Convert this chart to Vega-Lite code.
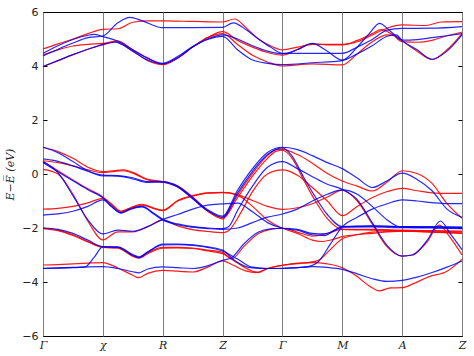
{
"$schema": "https://vega.github.io/schema/vega-lite/v6.json",
"width": 419, "height": 324,
"autosize": {"type": "none"},
"padding": {"left": 43, "top": 12, "right": 12, "bottom": 20},
"background": "#ffffff",
"config": {"view": {"stroke": "#000000", "strokeWidth": 1}},
"datasets": {
"red": [
{"b":1,"k":0,"e":0.99},{"b":1,"k":0.25,"e":0.83},{"b":1,"k":0.5,"e":0.58},{"b":1,"k":0.75,"e":0.25},{"b":1,"k":1,"e":0.09},{"b":1,"k":1.2,"e":0.13},{"b":1,"k":1.35,"e":0.15},{"b":1,"k":1.5,"e":0.06},{"b":1,"k":1.75,"e":-0.2},{"b":1,"k":2,"e":-0.28},{"b":1,"k":2.25,"e":-0.45},{"b":1,"k":2.5,"e":-0.85},{"b":1,"k":2.75,"e":-1.35},{"b":1,"k":3,"e":-1.62},{"b":1,"k":3.25,"e":-0.78},{"b":1,"k":3.5,"e":0.02},{"b":1,"k":3.75,"e":0.68},{"b":1,"k":3.9,"e":0.9},{"b":1,"k":4,"e":0.91},{"b":1,"k":4.25,"e":0.72},{"b":1,"k":4.5,"e":0.4},{"b":1,"k":4.75,"e":0.02},{"b":1,"k":5,"e":-0.26},{"b":1,"k":5.25,"e":-0.45},{"b":1,"k":5.5,"e":-0.63},{"b":1,"k":5.75,"e":-0.3},{"b":1,"k":6,"e":0.12},{"b":1,"k":6.25,"e":0.02},{"b":1,"k":6.5,"e":-0.35},{"b":1,"k":6.75,"e":-1.1},{"b":1,"k":7,"e":-1.64},
{"b":2,"k":0,"e":0.49},{"b":2,"k":0.25,"e":0.42},{"b":2,"k":0.5,"e":0.3},{"b":2,"k":0.75,"e":0.15},{"b":2,"k":1,"e":0.05},{"b":2,"k":1.2,"e":0.1},{"b":2,"k":1.35,"e":0.12},{"b":2,"k":1.5,"e":0.03},{"b":2,"k":1.75,"e":-0.22},{"b":2,"k":2,"e":-0.3},{"b":2,"k":2.25,"e":-0.48},{"b":2,"k":2.5,"e":-0.9},{"b":2,"k":2.75,"e":-1.38},{"b":2,"k":3,"e":-1.66},{"b":2,"k":3.25,"e":-0.88},{"b":2,"k":3.5,"e":-0.08},{"b":2,"k":3.75,"e":0.58},{"b":2,"k":3.9,"e":0.85},{"b":2,"k":4,"e":0.88},{"b":2,"k":4.15,"e":0.62},{"b":2,"k":4.35,"e":-0.2},{"b":2,"k":4.55,"e":-1.0},{"b":2,"k":4.75,"e":-1.65},{"b":2,"k":5,"e":-2.05},{"b":2,"k":5.5,"e":-2.08},{"b":2,"k":6,"e":-2.1},{"b":2,"k":6.5,"e":-2.12},{"b":2,"k":7,"e":-2.14},
{"b":3,"k":0,"e":0.17},{"b":3,"k":0.25,"e":0.0},{"b":3,"k":0.5,"e":-0.75},{"b":3,"k":0.75,"e":-1.75},{"b":3,"k":1,"e":-2.44},{"b":3,"k":1.25,"e":-2.14},{"b":3,"k":1.5,"e":-2.14},{"b":3,"k":1.75,"e":-1.95},{"b":3,"k":2,"e":-1.7},{"b":3,"k":2.25,"e":-1.92},{"b":3,"k":2.5,"e":-2.06},{"b":3,"k":2.75,"e":-2.13},{"b":3,"k":3,"e":-2.17},{"b":3,"k":3.1,"e":-2.1},{"b":3,"k":3.3,"e":-1.45},{"b":3,"k":3.5,"e":-0.65},{"b":3,"k":3.75,"e":0.0},{"b":3,"k":4,"e":0.15},{"b":3,"k":4.25,"e":-0.05},{"b":3,"k":4.5,"e":-0.5},{"b":3,"k":4.75,"e":-1.0},{"b":3,"k":5,"e":-1.54},{"b":3,"k":5.25,"e":-1.2},{"b":3,"k":5.5,"e":-0.88},{"b":3,"k":5.75,"e":-0.65},{"b":3,"k":6,"e":-0.53},{"b":3,"k":6.25,"e":-0.62},{"b":3,"k":6.5,"e":-0.7},{"b":3,"k":6.75,"e":-0.72},{"b":3,"k":7,"e":-0.72},
{"b":4,"k":0,"e":0.47},{"b":4,"k":0.25,"e":0.12},{"b":4,"k":0.5,"e":-0.22},{"b":4,"k":0.75,"e":-0.55},{"b":4,"k":1,"e":-0.85},{"b":4,"k":1.15,"e":-1.15},{"b":4,"k":1.3,"e":-1.4},{"b":4,"k":1.45,"e":-1.28},{"b":4,"k":1.65,"e":-1.15},{"b":4,"k":1.85,"e":-1.28},{"b":4,"k":2,"e":-1.36},{"b":4,"k":2.25,"e":-1.0},{"b":4,"k":2.5,"e":-0.82},{"b":4,"k":2.75,"e":-0.71},{"b":4,"k":3,"e":-0.69},{"b":4,"k":3.25,"e":-0.78},{"b":4,"k":3.5,"e":-1.2},{"b":4,"k":3.75,"e":-1.7},{"b":4,"k":4,"e":-2.01},{"b":4,"k":4.25,"e":-2.2},{"b":4,"k":4.5,"e":-2.45},{"b":4,"k":4.65,"e":-2.5},{"b":4,"k":4.85,"e":-2.42},{"b":4,"k":5,"e":-2.32},{"b":4,"k":5.5,"e":-2.2},{"b":4,"k":6,"e":-2.12},{"b":4,"k":6.5,"e":-2.15},{"b":4,"k":7,"e":-2.18},
{"b":5,"k":0,"e":-1.3},{"b":5,"k":0.25,"e":-1.27},{"b":5,"k":0.5,"e":-1.2},{"b":5,"k":0.75,"e":-1.07},{"b":5,"k":1,"e":-0.9},{"b":5,"k":1.15,"e":-1.12},{"b":5,"k":1.3,"e":-1.38},{"b":5,"k":1.45,"e":-1.26},{"b":5,"k":1.65,"e":-1.12},{"b":5,"k":1.85,"e":-1.26},{"b":5,"k":2,"e":-1.34},{"b":5,"k":2.25,"e":-0.98},{"b":5,"k":2.5,"e":-0.8},{"b":5,"k":2.75,"e":-0.7},{"b":5,"k":3,"e":-0.68},{"b":5,"k":3.25,"e":-0.76},{"b":5,"k":3.5,"e":-0.98},{"b":5,"k":3.75,"e":-1.2},{"b":5,"k":4,"e":-1.31},{"b":5,"k":4.25,"e":-1.25},{"b":5,"k":4.5,"e":-1.1},{"b":5,"k":4.75,"e":-0.85},{"b":5,"k":5,"e":-0.6},{"b":5,"k":5.25,"e":-1.0},{"b":5,"k":5.5,"e":-1.85},{"b":5,"k":5.75,"e":-2.7},{"b":5,"k":6,"e":-3.04},{"b":5,"k":6.17,"e":-3.0},{"b":5,"k":6.42,"e":-2.5},{"b":5,"k":6.62,"e":-1.89},{"b":5,"k":6.8,"e":-2.35},{"b":5,"k":7,"e":-3.0},
{"b":6,"k":0,"e":-2.0},{"b":6,"k":0.25,"e":-2.08},{"b":6,"k":0.5,"e":-2.25},{"b":6,"k":0.75,"e":-2.5},{"b":6,"k":1,"e":-2.72},{"b":6,"k":1.25,"e":-2.75},{"b":6,"k":1.5,"e":-3.05},{"b":6,"k":1.6,"e":-3.12},{"b":6,"k":1.75,"e":-2.95},{"b":6,"k":2,"e":-2.75},{"b":6,"k":2.25,"e":-2.74},{"b":6,"k":2.5,"e":-2.76},{"b":6,"k":2.75,"e":-2.85},{"b":6,"k":3,"e":-2.95},{"b":6,"k":3.25,"e":-3.3},{"b":6,"k":3.5,"e":-3.6},{"b":6,"k":3.6,"e":-3.65},{"b":6,"k":3.75,"e":-3.5},{"b":6,"k":4,"e":-3.38},{"b":6,"k":4.25,"e":-3.32},{"b":6,"k":4.5,"e":-3.28},{"b":6,"k":4.75,"e":-3.33},{"b":6,"k":5,"e":-3.47},{"b":6,"k":5.25,"e":-3.8},{"b":6,"k":5.45,"e":-4.15},{"b":6,"k":5.62,"e":-4.33},{"b":6,"k":5.8,"e":-4.22},{"b":6,"k":6,"e":-4.21},{"b":6,"k":6.2,"e":-4.05},{"b":6,"k":6.45,"e":-3.8},{"b":6,"k":6.75,"e":-3.6},{"b":6,"k":7,"e":-3.16},
{"b":7,"k":0,"e":-2.02},{"b":7,"k":0.25,"e":-2.1},{"b":7,"k":0.5,"e":-2.28},{"b":7,"k":0.75,"e":-2.52},{"b":7,"k":1,"e":-2.7},{"b":7,"k":1.25,"e":-2.72},{"b":7,"k":1.5,"e":-3.02},{"b":7,"k":1.6,"e":-3.1},{"b":7,"k":1.75,"e":-2.92},{"b":7,"k":2,"e":-2.72},{"b":7,"k":2.25,"e":-2.72},{"b":7,"k":2.5,"e":-2.74},{"b":7,"k":2.75,"e":-2.82},{"b":7,"k":3,"e":-2.9},{"b":7,"k":3.15,"e":-3.15},{"b":7,"k":3.35,"e":-2.7},{"b":7,"k":3.6,"e":-2.2},{"b":7,"k":3.8,"e":-2.05},{"b":7,"k":4,"e":-2.01},{"b":7,"k":4.25,"e":-2.15},{"b":7,"k":4.5,"e":-2.3},{"b":7,"k":4.75,"e":-2.2},{"b":7,"k":5,"e":-2.05},{"b":7,"k":5.5,"e":-2.05},{"b":7,"k":6,"e":-2.08},{"b":7,"k":6.5,"e":-2.1},{"b":7,"k":7,"e":-2.12},
{"b":8,"k":0,"e":-3.37},{"b":8,"k":0.25,"e":-3.36},{"b":8,"k":0.5,"e":-3.33},{"b":8,"k":0.75,"e":-3.3},{"b":8,"k":1,"e":-3.28},{"b":8,"k":1.25,"e":-3.48},{"b":8,"k":1.5,"e":-3.75},{"b":8,"k":1.6,"e":-3.84},{"b":8,"k":1.75,"e":-3.68},{"b":8,"k":2,"e":-3.57},{"b":8,"k":2.25,"e":-3.6},{"b":8,"k":2.5,"e":-3.63},{"b":8,"k":2.75,"e":-3.45},{"b":8,"k":3,"e":-3.22},{"b":8,"k":3.15,"e":-3.35},{"b":8,"k":3.4,"e":-3.6},{"b":8,"k":3.55,"e":-3.65},{"b":8,"k":3.75,"e":-3.5},{"b":8,"k":4,"e":-3.38},{"b":8,"k":4.25,"e":-3.3},{"b":8,"k":4.45,"e":-3.27},{"b":8,"k":4.6,"e":-3.2},{"b":8,"k":4.8,"e":-2.8},{"b":8,"k":5,"e":-2.4},{"b":8,"k":5.25,"e":-2.25},{"b":8,"k":5.5,"e":-2.15},{"b":8,"k":6,"e":-2.12},{"b":8,"k":6.5,"e":-2.15},{"b":8,"k":7,"e":-2.2},
{"b":11,"k":0,"e":3.98},{"b":11,"k":0.25,"e":4.2},{"b":11,"k":0.5,"e":4.42},{"b":11,"k":0.75,"e":4.62},{"b":11,"k":1,"e":4.78},{"b":11,"k":1.2,"e":4.9},{"b":11,"k":1.5,"e":4.55},{"b":11,"k":1.75,"e":4.2},{"b":11,"k":2,"e":4.05},{"b":11,"k":2.25,"e":4.3},{"b":11,"k":2.5,"e":4.7},{"b":11,"k":2.75,"e":5.05},{"b":11,"k":3,"e":5.2},{"b":11,"k":3.25,"e":4.8},{"b":11,"k":3.5,"e":4.4},{"b":11,"k":3.75,"e":4.15},{"b":11,"k":4,"e":4.0},{"b":11,"k":4.5,"e":4.08},{"b":11,"k":5,"e":4.04},{"b":11,"k":5.25,"e":4.45},{"b":11,"k":5.5,"e":4.9},{"b":11,"k":5.75,"e":5.15},{"b":11,"k":5.9,"e":5.1},{"b":11,"k":6,"e":4.93},{"b":11,"k":6.25,"e":4.55},{"b":11,"k":6.5,"e":4.24},{"b":11,"k":6.75,"e":4.6},{"b":11,"k":7,"e":5.2},
{"b":12,"k":0,"e":4.41},{"b":12,"k":0.25,"e":4.6},{"b":12,"k":0.5,"e":4.74},{"b":12,"k":0.75,"e":4.8},{"b":12,"k":1,"e":4.84},{"b":12,"k":1.25,"e":4.92},{"b":12,"k":1.5,"e":4.6},{"b":12,"k":1.75,"e":4.3},{"b":12,"k":2,"e":4.06},{"b":12,"k":2.25,"e":4.3},{"b":12,"k":2.5,"e":4.7},{"b":12,"k":2.75,"e":5.05},{"b":12,"k":3,"e":5.27},{"b":12,"k":3.25,"e":4.95},{"b":12,"k":3.5,"e":4.7},{"b":12,"k":3.75,"e":4.5},{"b":12,"k":4,"e":4.4},{"b":12,"k":4.25,"e":4.62},{"b":12,"k":4.5,"e":4.83},{"b":12,"k":4.75,"e":4.78},{"b":12,"k":5,"e":4.78},{"b":12,"k":5.25,"e":4.95},{"b":12,"k":5.5,"e":5.2},{"b":12,"k":5.65,"e":5.35},{"b":12,"k":5.85,"e":5.15},{"b":12,"k":6,"e":4.9},{"b":12,"k":6.25,"e":4.88},{"b":12,"k":6.5,"e":4.95},{"b":12,"k":6.75,"e":5.12},{"b":12,"k":7,"e":5.25},
{"b":13,"k":0,"e":4.63},{"b":13,"k":0.25,"e":4.82},{"b":13,"k":0.5,"e":5.0},{"b":13,"k":0.75,"e":5.2},{"b":13,"k":1,"e":5.36},{"b":13,"k":1.25,"e":5.38},{"b":13,"k":1.5,"e":5.62},{"b":13,"k":1.75,"e":5.67},{"b":13,"k":2,"e":5.67},{"b":13,"k":2.5,"e":5.65},{"b":13,"k":3,"e":5.63},{"b":13,"k":3.2,"e":5.74},{"b":13,"k":3.4,"e":5.4},{"b":13,"k":3.6,"e":5.0},{"b":13,"k":3.8,"e":4.75},{"b":13,"k":4,"e":4.6},{"b":13,"k":4.25,"e":4.7},{"b":13,"k":4.5,"e":4.8},{"b":13,"k":4.75,"e":4.8},{"b":13,"k":5,"e":4.8},{"b":13,"k":5.25,"e":4.9},{"b":13,"k":5.5,"e":5.15},{"b":13,"k":5.75,"e":5.4},{"b":13,"k":6,"e":5.52},{"b":13,"k":6.4,"e":5.5},{"b":13,"k":6.65,"e":5.63},{"b":13,"k":7,"e":5.64}
],
"blue": [
{"b":1,"k":0,"e":0.99},{"b":1,"k":0.25,"e":0.79},{"b":1,"k":0.5,"e":0.46},{"b":1,"k":0.75,"e":0.12},{"b":1,"k":1,"e":-0.04},{"b":1,"k":1.25,"e":-0.06},{"b":1,"k":1.5,"e":-0.14},{"b":1,"k":1.75,"e":-0.28},{"b":1,"k":2,"e":-0.28},{"b":1,"k":2.25,"e":-0.45},{"b":1,"k":2.5,"e":-0.88},{"b":1,"k":2.75,"e":-1.32},{"b":1,"k":3,"e":-1.56},{"b":1,"k":3.25,"e":-0.6},{"b":1,"k":3.5,"e":0.2},{"b":1,"k":3.75,"e":0.8},{"b":1,"k":4,"e":0.99},{"b":1,"k":4.25,"e":0.9},{"b":1,"k":4.5,"e":0.68},{"b":1,"k":4.75,"e":0.42},{"b":1,"k":5,"e":0.2},{"b":1,"k":5.25,"e":-0.15},{"b":1,"k":5.5,"e":-0.5},{"b":1,"k":5.75,"e":-0.25},{"b":1,"k":6,"e":0.03},{"b":1,"k":6.25,"e":-0.2},{"b":1,"k":6.5,"e":-0.62},{"b":1,"k":6.75,"e":-1.3},{"b":1,"k":7,"e":-1.6},
{"b":2,"k":0,"e":0.56},{"b":2,"k":0.25,"e":0.47},{"b":2,"k":0.5,"e":0.3},{"b":2,"k":0.75,"e":0.1},{"b":2,"k":1,"e":-0.07},{"b":2,"k":1.25,"e":-0.08},{"b":2,"k":1.5,"e":-0.18},{"b":2,"k":1.75,"e":-0.31},{"b":2,"k":2,"e":-0.3},{"b":2,"k":2.25,"e":-0.48},{"b":2,"k":2.5,"e":-0.92},{"b":2,"k":2.75,"e":-1.36},{"b":2,"k":3,"e":-1.6},{"b":2,"k":3.25,"e":-0.7},{"b":2,"k":3.5,"e":0.1},{"b":2,"k":3.75,"e":0.72},{"b":2,"k":4,"e":0.97},{"b":2,"k":4.15,"e":0.7},{"b":2,"k":4.35,"e":-0.1},{"b":2,"k":4.55,"e":-0.85},{"b":2,"k":4.75,"e":-1.5},{"b":2,"k":5,"e":-1.95},{"b":2,"k":5.5,"e":-1.93},{"b":2,"k":6,"e":-1.95},{"b":2,"k":6.5,"e":-1.96},{"b":2,"k":7,"e":-1.97},
{"b":3,"k":0,"e":0.45},{"b":3,"k":0.25,"e":0.05},{"b":3,"k":0.5,"e":-0.8},{"b":3,"k":0.75,"e":-1.7},{"b":3,"k":1,"e":-2.22},{"b":3,"k":1.25,"e":-2.08},{"b":3,"k":1.5,"e":-2.12},{"b":3,"k":1.75,"e":-1.95},{"b":3,"k":2,"e":-1.68},{"b":3,"k":2.25,"e":-1.5},{"b":3,"k":2.5,"e":-1.3},{"b":3,"k":2.75,"e":-1.15},{"b":3,"k":3,"e":-1.11},{"b":3,"k":3.25,"e":-1.08},{"b":3,"k":3.5,"e":-1.4},{"b":3,"k":3.75,"e":-1.8},{"b":3,"k":4,"e":-2.01},{"b":3,"k":4.25,"e":-2.08},{"b":3,"k":4.5,"e":-2.25},{"b":3,"k":4.7,"e":-2.28},{"b":3,"k":4.9,"e":-2.05},{"b":3,"k":5,"e":-1.95},{"b":3,"k":5.5,"e":-1.92},{"b":3,"k":6,"e":-1.95},{"b":3,"k":6.5,"e":-1.96},{"b":3,"k":7,"e":-1.98},
{"b":4,"k":0,"e":0.42},{"b":4,"k":0.25,"e":0.08},{"b":4,"k":0.5,"e":-0.25},{"b":4,"k":0.75,"e":-0.58},{"b":4,"k":1,"e":-0.88},{"b":4,"k":1.15,"e":-1.2},{"b":4,"k":1.3,"e":-1.43},{"b":4,"k":1.45,"e":-1.3},{"b":4,"k":1.65,"e":-1.2},{"b":4,"k":1.85,"e":-1.45},{"b":4,"k":2,"e":-1.68},{"b":4,"k":2.25,"e":-1.85},{"b":4,"k":2.5,"e":-1.95},{"b":4,"k":2.75,"e":-2.0},{"b":4,"k":3,"e":-2.02},{"b":4,"k":3.1,"e":-1.95},{"b":4,"k":3.25,"e":-1.35},{"b":4,"k":3.5,"e":-0.45},{"b":4,"k":3.75,"e":0.25},{"b":4,"k":4,"e":0.46},{"b":4,"k":4.25,"e":0.2},{"b":4,"k":4.5,"e":-0.1},{"b":4,"k":4.75,"e":-0.38},{"b":4,"k":5,"e":-0.57},{"b":4,"k":5.25,"e":-0.95},{"b":4,"k":5.5,"e":-1.8},{"b":4,"k":5.75,"e":-2.65},{"b":4,"k":6,"e":-3.04},{"b":4,"k":6.17,"e":-3.0},{"b":4,"k":6.42,"e":-2.45},{"b":4,"k":6.64,"e":-1.74},{"b":4,"k":6.8,"e":-2.2},{"b":4,"k":7,"e":-2.8},
{"b":5,"k":0,"e":-1.52},{"b":5,"k":0.25,"e":-1.48},{"b":5,"k":0.5,"e":-1.38},{"b":5,"k":0.75,"e":-1.2},{"b":5,"k":1,"e":-0.96},{"b":5,"k":1.15,"e":-1.22},{"b":5,"k":1.3,"e":-1.45},{"b":5,"k":1.45,"e":-1.32},{"b":5,"k":1.65,"e":-1.22},{"b":5,"k":1.85,"e":-1.48},{"b":5,"k":2,"e":-1.7},{"b":5,"k":2.25,"e":-1.88},{"b":5,"k":2.5,"e":-1.97},{"b":5,"k":2.75,"e":-2.02},{"b":5,"k":3,"e":-2.05},{"b":5,"k":3.25,"e":-2.0},{"b":5,"k":3.5,"e":-1.8},{"b":5,"k":3.75,"e":-1.6},{"b":5,"k":4,"e":-1.48},{"b":5,"k":4.25,"e":-1.3},{"b":5,"k":4.5,"e":-1.0},{"b":5,"k":4.75,"e":-0.75},{"b":5,"k":5,"e":-0.59},{"b":5,"k":5.25,"e":-0.75},{"b":5,"k":5.5,"e":-1.2},{"b":5,"k":5.75,"e":-1.7},{"b":5,"k":6,"e":-1.98},{"b":5,"k":6.5,"e":-1.98},{"b":5,"k":7,"e":-2.0},
{"b":6,"k":0,"e":-2.0},{"b":6,"k":0.25,"e":-2.05},{"b":6,"k":0.5,"e":-2.2},{"b":6,"k":0.75,"e":-2.45},{"b":6,"k":1,"e":-2.69},{"b":6,"k":1.25,"e":-2.7},{"b":6,"k":1.5,"e":-2.98},{"b":6,"k":1.6,"e":-3.07},{"b":6,"k":1.75,"e":-2.88},{"b":6,"k":2,"e":-2.63},{"b":6,"k":2.25,"e":-2.62},{"b":6,"k":2.5,"e":-2.64},{"b":6,"k":2.75,"e":-2.72},{"b":6,"k":3,"e":-2.85},{"b":6,"k":3.25,"e":-3.15},{"b":6,"k":3.5,"e":-3.45},{"b":6,"k":3.75,"e":-3.5},{"b":6,"k":4,"e":-3.49},{"b":6,"k":4.25,"e":-3.47},{"b":6,"k":4.5,"e":-3.43},{"b":6,"k":4.75,"e":-3.46},{"b":6,"k":5,"e":-3.53},{"b":6,"k":5.25,"e":-3.7},{"b":6,"k":5.5,"e":-3.88},{"b":6,"k":5.75,"e":-3.98},{"b":6,"k":6,"e":-3.94},{"b":6,"k":6.25,"e":-3.82},{"b":6,"k":6.5,"e":-3.65},{"b":6,"k":6.75,"e":-3.45},{"b":6,"k":7,"e":-3.22},
{"b":7,"k":0,"e":-3.49},{"b":7,"k":0.25,"e":-3.48},{"b":7,"k":0.5,"e":-3.46},{"b":7,"k":0.7,"e":-3.44},{"b":7,"k":0.85,"e":-3.1},{"b":7,"k":1,"e":-2.7},{"b":7,"k":1.25,"e":-2.72},{"b":7,"k":1.5,"e":-3.02},{"b":7,"k":1.6,"e":-3.1},{"b":7,"k":1.75,"e":-2.9},{"b":7,"k":2,"e":-2.6},{"b":7,"k":2.25,"e":-2.6},{"b":7,"k":2.5,"e":-2.62},{"b":7,"k":2.75,"e":-2.7},{"b":7,"k":3,"e":-2.82},{"b":7,"k":3.2,"e":-3.2},{"b":7,"k":3.5,"e":-3.48},{"b":7,"k":3.75,"e":-3.5},{"b":7,"k":4,"e":-3.5},{"b":7,"k":4.25,"e":-3.47},{"b":7,"k":4.45,"e":-3.42},{"b":7,"k":4.6,"e":-3.25},{"b":7,"k":4.8,"e":-2.6},{"b":7,"k":5,"e":-1.95},{"b":7,"k":5.25,"e":-1.6},{"b":7,"k":5.5,"e":-1.3},{"b":7,"k":5.75,"e":-1.1},{"b":7,"k":6,"e":-0.96},{"b":7,"k":6.25,"e":-1.0},{"b":7,"k":6.5,"e":-1.06},{"b":7,"k":6.75,"e":-1.1},{"b":7,"k":7,"e":-1.1},
{"b":8,"k":0,"e":-3.5},{"b":8,"k":0.5,"e":-3.47},{"b":8,"k":0.75,"e":-3.44},{"b":8,"k":1,"e":-3.43},{"b":8,"k":1.25,"e":-3.5},{"b":8,"k":1.5,"e":-3.62},{"b":8,"k":1.6,"e":-3.66},{"b":8,"k":1.75,"e":-3.52},{"b":8,"k":2,"e":-3.44},{"b":8,"k":2.25,"e":-3.47},{"b":8,"k":2.5,"e":-3.5},{"b":8,"k":2.75,"e":-3.4},{"b":8,"k":3,"e":-3.2},{"b":8,"k":3.15,"e":-3.1},{"b":8,"k":3.35,"e":-2.6},{"b":8,"k":3.6,"e":-2.15},{"b":8,"k":3.8,"e":-2.03},{"b":8,"k":4,"e":-2.01},{"b":8,"k":4.25,"e":-2.05},{"b":8,"k":4.5,"e":-2.2},{"b":8,"k":4.7,"e":-2.22},{"b":8,"k":4.9,"e":-2.05},{"b":8,"k":5,"e":-1.97},{"b":8,"k":5.5,"e":-1.96},{"b":8,"k":6,"e":-1.99},{"b":8,"k":6.5,"e":-2.0},{"b":8,"k":7,"e":-2.02},
{"b":11,"k":0,"e":3.98},{"b":11,"k":0.25,"e":4.2},{"b":11,"k":0.5,"e":4.42},{"b":11,"k":0.75,"e":4.62},{"b":11,"k":1,"e":4.8},{"b":11,"k":1.2,"e":4.88},{"b":11,"k":1.5,"e":4.55},{"b":11,"k":1.75,"e":4.22},{"b":11,"k":2,"e":4.08},{"b":11,"k":2.25,"e":4.3},{"b":11,"k":2.5,"e":4.7},{"b":11,"k":2.75,"e":4.98},{"b":11,"k":3,"e":5.1},{"b":11,"k":3.25,"e":4.6},{"b":11,"k":3.5,"e":4.22},{"b":11,"k":3.75,"e":4.1},{"b":11,"k":4,"e":4.05},{"b":11,"k":4.5,"e":4.12},{"b":11,"k":5,"e":4.2},{"b":11,"k":5.25,"e":4.45},{"b":11,"k":5.5,"e":4.75},{"b":11,"k":5.75,"e":5.1},{"b":11,"k":5.9,"e":5.15},{"b":11,"k":6,"e":4.94},{"b":11,"k":6.25,"e":4.6},{"b":11,"k":6.5,"e":4.25},{"b":11,"k":6.75,"e":4.55},{"b":11,"k":7,"e":5.15},
{"b":12,"k":0,"e":4.47},{"b":12,"k":0.25,"e":4.75},{"b":12,"k":0.5,"e":4.98},{"b":12,"k":0.75,"e":5.14},{"b":12,"k":0.85,"e":5.17},{"b":12,"k":1,"e":5.09},{"b":12,"k":1.25,"e":4.92},{"b":12,"k":1.5,"e":4.6},{"b":12,"k":1.75,"e":4.28},{"b":12,"k":2,"e":4.1},{"b":12,"k":2.25,"e":4.35},{"b":12,"k":2.5,"e":4.72},{"b":12,"k":2.75,"e":5.0},{"b":12,"k":3,"e":5.15},{"b":12,"k":3.25,"e":5.0},{"b":12,"k":3.5,"e":4.75},{"b":12,"k":3.75,"e":4.55},{"b":12,"k":4,"e":4.45},{"b":12,"k":4.25,"e":4.6},{"b":12,"k":4.5,"e":4.84},{"b":12,"k":4.75,"e":4.55},{"b":12,"k":5,"e":4.22},{"b":12,"k":5.25,"e":4.7},{"b":12,"k":5.45,"e":5.2},{"b":12,"k":5.62,"e":5.58},{"b":12,"k":5.8,"e":5.3},{"b":12,"k":6,"e":4.96},{"b":12,"k":6.25,"e":4.98},{"b":12,"k":6.5,"e":5.05},{"b":12,"k":6.75,"e":5.12},{"b":12,"k":7,"e":5.2},
{"b":13,"k":0,"e":4.37},{"b":13,"k":0.25,"e":4.62},{"b":13,"k":0.5,"e":4.85},{"b":13,"k":0.75,"e":5.05},{"b":13,"k":1,"e":5.11},{"b":13,"k":1.25,"e":5.6},{"b":13,"k":1.45,"e":5.8},{"b":13,"k":1.65,"e":5.68},{"b":13,"k":2,"e":5.42},{"b":13,"k":2.5,"e":5.42},{"b":13,"k":3,"e":5.43},{"b":13,"k":3.18,"e":5.6},{"b":13,"k":3.4,"e":5.33},{"b":13,"k":3.6,"e":5.0},{"b":13,"k":3.8,"e":4.7},{"b":13,"k":4,"e":4.47},{"b":13,"k":4.5,"e":4.47},{"b":13,"k":5,"e":4.47},{"b":13,"k":5.25,"e":4.7},{"b":13,"k":5.5,"e":4.98},{"b":13,"k":5.75,"e":5.33},{"b":13,"k":6,"e":5.39},{"b":13,"k":6.5,"e":5.4},{"b":13,"k":7,"e":5.46}
]
},
"resolve": {"axis": {"y": "independent"}},
"layer": [
{
"data": {"name": "red"},
"mark": {"type": "line", "color": "#ff0000", "strokeWidth": 1.2, "interpolate": "monotone", "opacity": 0.9},
"encoding": {
"x": {"field": "k", "type": "quantitative", "scale": {"domain": [0, 7], "nice": false, "zero": false},
"axis": {"values": [0,1,2,3,4,5,6,7], "labelExpr": "['Γ','χ','R','Z','Γ','M','A','Z'][datum.value]", "grid": true, "gridColor": "#7f7f7f", "gridWidth": 1, "ticks": false, "domain": false, "title": null, "labelFont": "DejaVu Serif", "labelFontStyle": "italic", "labelFontSize": 11, "labelColor": "#222222", "labelPadding": 3, "labelFlush": false}},
"y": {"field": "e", "type": "quantitative", "scale": {"domain": [-6, 6], "nice": false, "zero": false},
"axis": {"values": [-6,-4,-2,0,2,4,6], "grid": false, "domain": false, "tickSize": -4, "tickColor": "#000000", "labelPadding": 9, "labelExpr": "replace(datum.label, '-', '−')", "labelFont": "DejaVu Sans", "labelFontSize": 11, "labelColor": "#222222", "title": "E−E̅ (eV)", "titleFont": "DejaVu Serif", "titleFontStyle": "italic", "titleFontWeight": "normal", "titleFontSize": 11, "titleColor": "#222222", "titlePadding": 6}},
"detail": {"field": "b", "type": "nominal"}
}
},
{
"data": {"name": "blue"},
"mark": {"type": "line", "color": "#0000ff", "strokeWidth": 1.2, "interpolate": "monotone", "opacity": 0.85},
"encoding": {
"x": {"field": "k", "type": "quantitative"},
"y": {"field": "e", "type": "quantitative",
"axis": {"orient": "right", "values": [-6,-4,-2,0,2,4,6], "grid": false, "domain": false, "tickSize": -4, "tickColor": "#000000", "labels": false, "title": null}},
"detail": {"field": "b", "type": "nominal"}
}
}
]
}
